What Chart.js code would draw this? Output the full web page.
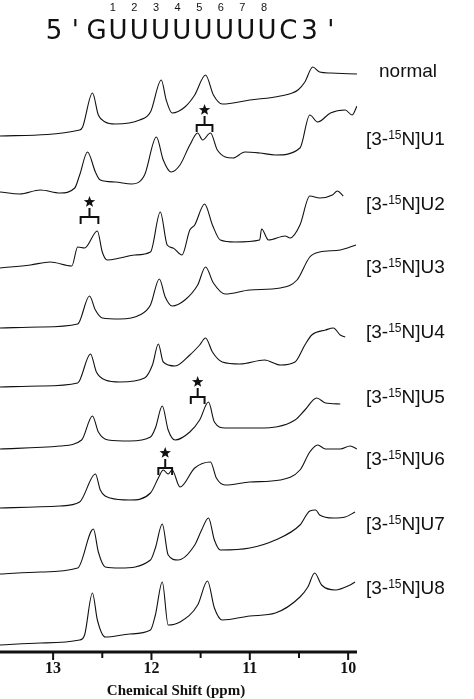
<!DOCTYPE html>
<html><head><meta charset="utf-8">
<script src="https://cdn.jsdelivr.net/npm/chart.js@4/dist/chart.umd.min.js"></script>
<style>html,body{margin:0;padding:0;background:#fff}#w{width:474px;height:699px}</style>
</head><body><div id="w"><canvas id="c"></canvas></div>
<script>
// Chemical shift (ppm) and stacked intensity for each spectrum
const normalPpm=[13.54,12.73,12.70,12.60,12.54,12.47,12.37,12.12,12.01,11.90,11.85,11.79,11.66,11.56,11.45,11.37,11.28,11.00,10.69,10.51,10.44,10.36,10.29,10.18,9.91];
const normalInt=[516,522,525,559,537,530,528,532,540,572,552,539,545,557,577,557,548,552,556,562,570,585,580,579,578];
const u1Ppm=[13.54,13.34,13.13,12.93,12.78,12.73,12.65,12.57,12.52,12.37,12.20,12.07,11.95,11.88,11.80,11.71,11.61,11.53,11.48,11.40,11.33,11.17,11.05,10.90,10.74,10.49,10.39,10.31,10.18,10.03,9.96,9.91];
const u1Int=[460,458,462,459,464,477,500,480,472,470,468,477,515,492,480,487,507,519,512,519,502,494,500,499,497,504,537,530,539,542,537,546];
const u2Ppm=[13.54,13.23,13.03,12.81,12.75,12.68,12.55,12.50,12.45,12.32,12.17,12.01,11.91,11.84,11.78,11.69,11.61,11.56,11.46,11.38,11.30,11.15,10.90,10.88,10.81,10.64,10.59,10.49,10.39,10.29,10.16,10.11,10.05];
const u2Int=[384,387,390,386,405,404,421,400,392,394,397,400,440,407,404,397,422,427,448,427,412,410,412,423,412,416,414,427,456,454,457,461,456];
const u3Ppm=[13.54,13.13,12.75,12.63,12.57,12.50,12.32,12.12,12.01,11.92,11.86,11.79,11.66,11.53,11.45,11.37,11.25,11.00,10.69,10.52,10.39,10.29,10.08,9.92];
const u3Int=[324,325,328,356,342,334,333,337,347,373,355,346,352,367,385,369,358,362,364,372,395,400,402,407];
const u4Ppm=[13.54,13.13,12.75,12.62,12.56,12.47,12.32,12.07,11.99,11.93,11.88,11.76,11.61,11.51,11.45,11.38,11.28,11.10,10.85,10.69,10.54,10.44,10.37,10.23,10.15,10.08,10.03];
const u4Int=[265,266,269,298,280,272,270,274,287,308,290,286,297,307,314,300,290,288,292,287,290,307,317,322,324,317,315];
const u5Ppm=[13.54,12.93,12.71,12.60,12.54,12.44,12.22,12.01,11.96,11.89,11.83,11.76,11.61,11.51,11.42,11.36,11.25,10.90,10.54,10.44,10.32,10.23,10.08];
const u5Int=[203,206,212,236,220,212,211,215,224,246,222,212,220,232,250,230,224,224,232,242,254,249,248];
const u6Ppm=[13.54,12.93,12.73,12.57,12.52,12.42,12.22,12.01,11.93,11.88,11.83,11.79,11.71,11.56,11.40,11.34,11.25,11.00,10.69,10.49,10.39,10.31,10.23,10.08,9.98,9.91];
const u6Int=[144,146,150,178,162,154,152,159,174,182,178,182,165,184,190,174,167,170,172,182,200,207,203,203,206,203];
const u7Ppm=[13.54,13.13,12.75,12.59,12.54,12.47,12.32,12.01,11.96,11.89,11.83,11.73,11.56,11.49,11.42,11.36,11.30,11.00,10.74,10.49,10.39,10.33,10.29,10.15,10.03,9.93];
const u7Int=[78,80,84,123,100,85,84,92,104,128,97,92,107,122,134,112,102,104,112,127,141,142,137,134,135,140];
const u8Ppm=[13.54,13.13,12.73,12.68,12.60,12.55,12.47,12.22,12.01,11.96,11.89,11.83,11.71,11.53,11.43,11.36,11.28,11.00,10.74,10.49,10.41,10.34,10.27,10.13,9.98,9.93];
const u8Int=[7,9,12,17,59,32,15,18,22,37,70,27,30,47,71,44,32,36,39,55,65,79,67,62,67,70];
const traces=[[normalPpm,normalInt],[u1Ppm,u1Int],[u2Ppm,u2Int],[u3Ppm,u3Int],[u4Ppm,u4Int],[u5Ppm,u5Int],[u6Ppm,u6Int],[u7Ppm,u7Int],[u8Ppm,u8Int]];
const traceNames=['normal','U1','U2','U3','U4','U5','U6','U7','U8'];
const labelInt=[580,512,447,384,319,254,192,127,63];
// starred (labelled) doublets: centre ppm, half width ppm, bracket intensity
const starPpm=[11.46,12.63,11.53,11.86];
const starHalf=[0.08,0.09,0.07,0.07];
const starInt=[527,435,255,184];
const majorTicks=[13,12,11,10];
const minorTicks=[12.5,11.5,10.5];
const seqChars=["5","'","G","U","U","U","U","U","U","U","U","C","3","'"];

const datasets=traces.map(([p,v],k)=>({label:traceNames[k],data:p.map((x,i)=>({x,y:v[i]})),borderColor:'#111',borderWidth:1.1,pointRadius:0,cubicInterpolationMode:'monotone',fill:false}));

function drawStar(ctx,cx,cy,r){ctx.beginPath();for(let i=0;i<10;i++){const a=-Math.PI/2+i*Math.PI/5;const rr=i%2?r*0.42:r;ctx.lineTo(cx+rr*Math.cos(a),cy+rr*Math.sin(a));}ctx.closePath();ctx.fill();}

const deco={id:'deco',afterDraw(ch){
 const ctx=ch.ctx,xs=ch.scales.x,ys=ch.scales.y,a=ch.chartArea;
 ctx.save();ctx.fillStyle='#111';ctx.strokeStyle='#111';
 ctx.textAlign='center';ctx.textBaseline='alphabetic';
 ctx.font='26px "DejaVu Sans", sans-serif';
 seqChars.forEach((c,i)=>ctx.fillText(c,54+i*21.3,39));
 ctx.font='11px "Liberation Sans", sans-serif';
 for(let n=1;n<=8;n++)ctx.fillText(String(n),52+(n+2)*21.6-4,11);
 ctx.textAlign='left';ctx.textBaseline='middle';
 traceNames.forEach((nm,k)=>{const y=ys.getPixelForValue(labelInt[k]);
  if(k===0){ctx.font='19px "Liberation Sans", sans-serif';ctx.fillText('normal',379,y);return;}
  let x=366;ctx.font='19px "Liberation Sans", sans-serif';ctx.fillText('[3-',x,y);x+=ctx.measureText('[3-').width;
  ctx.font='12px "Liberation Sans", sans-serif';ctx.fillText('15',x,y-4);x+=ctx.measureText('15').width;
  ctx.font='19px "Liberation Sans", sans-serif';ctx.fillText('N]'+nm,x,y);});
 ctx.lineWidth=2;
 starPpm.forEach((p,i)=>{const x1=xs.getPixelForValue(p+starHalf[i]),x2=xs.getPixelForValue(p-starHalf[i]),xc=xs.getPixelForValue(p),y=ys.getPixelForValue(starInt[i]);
  ctx.beginPath();ctx.moveTo(x1,y+7);ctx.lineTo(x1,y);ctx.lineTo(x2,y);ctx.lineTo(x2,y+7);ctx.moveTo(xc,y);ctx.lineTo(xc,y-9);ctx.stroke();
  drawStar(ctx,xc,y-15,6);});
 const yb=a.bottom;ctx.lineWidth=3;ctx.beginPath();ctx.moveTo(0,yb);ctx.lineTo(a.right,yb);ctx.stroke();
 ctx.lineWidth=2;
 majorTicks.forEach(t=>{const x=xs.getPixelForValue(t);ctx.beginPath();ctx.moveTo(x,yb);ctx.lineTo(x,yb+8);ctx.stroke();});
 minorTicks.forEach(t=>{const x=xs.getPixelForValue(t);ctx.beginPath();ctx.moveTo(x,yb);ctx.lineTo(x,yb+6);ctx.stroke();});
 ctx.font='bold 16px "Liberation Serif", serif';ctx.textAlign='center';ctx.textBaseline='alphabetic';
 majorTicks.forEach(t=>ctx.fillText(String(t),xs.getPixelForValue(t),yb+21));
 ctx.font='bold 15px "Liberation Serif", serif';ctx.fillText('Chemical Shift (ppm)',176,yb+43);
 ctx.restore();}};

new Chart(document.getElementById('c'),{type:'line',data:{datasets},
 options:{responsive:true,maintainAspectRatio:false,animation:false,events:[],
  layout:{padding:{top:55,bottom:47,left:0,right:117}},
  plugins:{legend:{display:false},tooltip:{enabled:false}},
  scales:{x:{type:'linear',reverse:true,min:9.91,max:13.54,display:false},
          y:{min:0,max:597,display:false}}},
 plugins:[deco]});
</script></body></html>
